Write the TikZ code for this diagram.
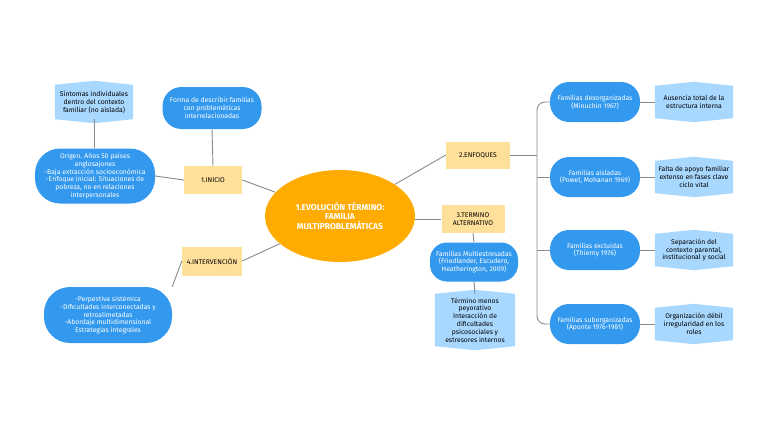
\documentclass[tikz,border=0pt]{standalone}
\usepackage{fontspec}
\setmainfont{Fira Sans}
\usetikzlibrary{backgrounds,shapes.geometric}
\definecolor{orng}{HTML}{FFAB00}
\definecolor{yel}{HTML}{FFE09A}
\definecolor{blu}{HTML}{3399EE}
\definecolor{lblu}{HTML}{A9D8FF}
\definecolor{ln}{HTML}{8A8A8A}
\tikzset{x=1pt,y=-1pt,
 conn/.style={draw=ln,line width=0.9pt},
 topic/.style={fill=yel,align=center,font=\fontsize{6.8}{7.8}\selectfont,inner sep=2pt},
 pill/.style={fill=blu,text=white,rounded corners=19pt,align=center,inner sep=1pt,font=\fontsize{6.8}{7.8}\selectfont\addfontfeatures{Weight=Light}},
 hexn/.style={align=center,font=\fontsize{6.8}{7.8}\selectfont,inner sep=1pt}}
\newcommand{\hexfill}[1]{\fill[lblu] (#1.north west) -- ([yshift=4pt]#1.north) -- (#1.north east) -- (#1.south east) -- ([yshift=-4pt]#1.south) -- (#1.south west) -- cycle;}
\begin{document}
\begin{tikzpicture}
\useasboundingbox (0,0) rectangle (768,431);
% center
\node[ellipse,fill=orng,text=white,minimum width=150pt,minimum height=92pt,align=center,font=\fontsize{8.5}{9.5}\selectfont\bfseries] (c) at (340,216) {1.EVOLUCIÓN TÉRMINO:\\FAMILIA\\MULTIPROBLEMÁTICAS};
% left
\node[topic,minimum width=58pt,minimum height=28pt] (ini) at (213,180) {1.INICIO};
\node[pill,minimum width=99pt,minimum height=42pt] (forma) at (212,108) {Forma de describir familias\\con problemáticas\\interrelacionadas};
\node[pill,minimum width=120pt,minimum height=55pt,rounded corners=25pt] (orig) at (95,176) {Origen. Años 50 países\\anglosajones\\-Baja extracción socioeconómica\\-Enfoque inicial: Situaciones de\\pobreza, no en relaciones\\interpersonales};
\node[hexn,minimum width=78pt,minimum height=34pt] (sint) at (94,102) {Síntomas individuales\\dentro del contexto\\familiar (no aislada)};
\node[topic,minimum width=60pt,minimum height=29pt] (inter) at (212,261) {4.INTERVENCIÓN};
\node[pill,minimum width=128pt,minimum height=56pt,rounded corners=26pt] (persp) at (108,315) {-Perpestiva sistémica\\-Dificultades interconectadas y\\retroalimetadas\\-Abordaje multidimensional\\Estrategias integrales};
% middle
\node[topic,minimum width=64pt,minimum height=27pt] (enf) at (478,155) {2.ENFOQUES};
\node[topic,minimum width=63pt,minimum height=28pt] (alt) at (473,219) {3.TERMINO\\ALTERNATIVO};
\node[pill,minimum width=88pt,minimum height=39pt,rounded corners=17pt] (mult) at (474,262) {Familias Multiestresadas\\(Friedlander, Escudero,\\Heatherington, 2009)};
\node[hexn,minimum width=80pt,minimum height=52pt] (term) at (475,320) {Término menos\\peyorativo\\Interacción de\\dificultades\\psicosociales y\\estresores internos};
% right
\foreach \n/\y/\t/\h in {f1/102/{Familias desorganizadas\\(Minuchin 1967)}/{Ausencia total de la\\estructura interna},
 f2/177/{Familias aisladas\\(Powel, Mohanan 1969)}/{Falta de apoyo familiar\\extenso en fases clave\\ciclo vital},
 f3/250/{Familias excluidas\\(Thierny 1976)}/{Separación del\\contexto parental,\\institucional y social},
 f4/324/{Familias suborganizadas\\(Aponte 1976-1981)}/{Organización débil\\irregularidad en los\\roles}}{
 \node[pill,minimum width=90pt,minimum height=40pt] (\n) at (595,\y) {\t};
 \node[hexn,minimum width=78pt,minimum height=32pt] (\n h) at (694,\y) {\h};
 \draw[conn] (\n.east) -- (\n h.west);
}
\begin{scope}[on background layer]
\fill[white] (0,0) rectangle (768,431);
\hexfill{sint}\hexfill{term}
\foreach \n in {f1,f2,f3,f4}{\hexfill{\n h}}
\end{scope}
% connectors
\draw[conn] (c) -- (ini.east);
\draw[conn] (ini.north) -- (forma.south);
\draw[conn] (ini.west) -- (orig.east);
\draw[conn] (orig.north -| sint) -- (sint.south);
\draw[conn] (c) -- (inter.east);
\draw[conn] (inter.west) -- (persp.north east);
\draw[conn] (c) -- (enf.west);
\draw[conn] (c.east |- alt) -- (alt.west);
\draw[conn] (alt.south) -- (mult.north);
\draw[conn] (mult.south) -- (term.north);
\coordinate (bx) at (537,155);
\draw[conn] (enf.east) -- (bx);
\draw[conn,rounded corners=8pt] (f1.west) -- (f1.west -| bx) -- (f4.west -| bx) -- (f4.west);
\draw[conn] (f2.west -| bx) -- (f2.west);
\draw[conn] (f3.west -| bx) -- (f3.west);
\end{tikzpicture}
\end{document}
